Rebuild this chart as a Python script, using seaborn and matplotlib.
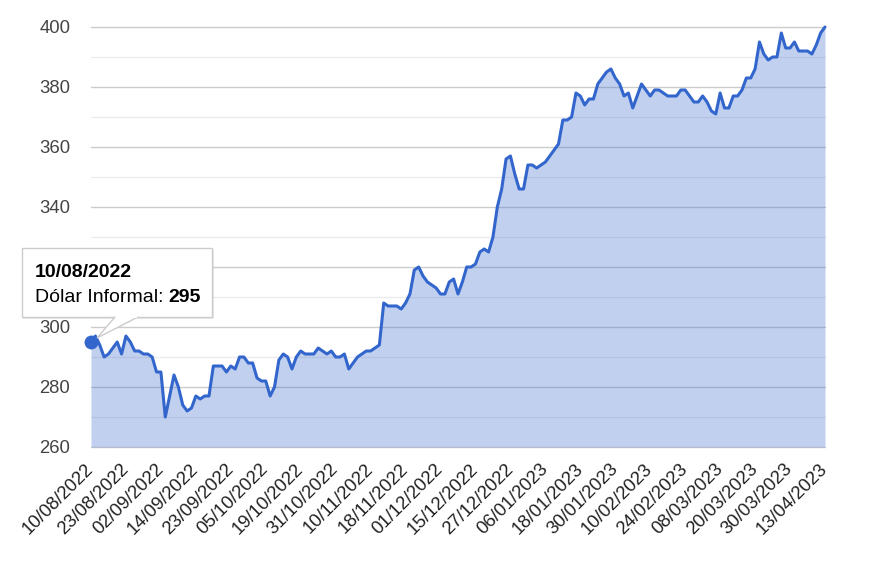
import matplotlib
matplotlib.use("Agg")
import matplotlib.pyplot as plt
import matplotlib.patches as mpatches
import seaborn as sns
import pandas as pd
import numpy as np

# ---- data ----
tick_labels = ["10/08/2022", "23/08/2022", "02/09/2022", "14/09/2022", "23/09/2022",
               "05/10/2022", "19/10/2022", "31/10/2022", "10/11/2022", "18/11/2022",
               "01/12/2022", "15/12/2022", "27/12/2022", "06/01/2023", "18/01/2023",
               "30/01/2023", "10/02/2023", "24/02/2023", "08/03/2023", "20/03/2023",
               "30/03/2023", "13/04/2023"]

values = [295, 297, 294, 290, 291, 293, 295, 291, 297, 295,
          292, 292, 291, 291, 290, 285, 285, 270, 277, 284,
          280, 274, 272, 273, 277, 276, 277, 277, 287, 287,
          287, 285, 287, 286, 290, 290, 288, 288, 283, 282,
          282, 277, 280, 289, 291, 290, 286, 290, 292, 291,
          291, 291, 293, 292, 291, 292, 290, 290, 291, 286,
          288, 290, 291, 292, 292, 293, 294, 308, 307, 307,
          307, 306, 308, 311, 319, 320, 317, 315, 314, 313,
          311, 311, 315, 316, 311, 315, 320, 320, 321, 325,
          326, 325, 330, 340, 346, 356, 357, 351, 346, 346,
          354, 354, 353, 354, 355, 357, 359, 361, 369, 369,
          370, 378, 377, 374, 376, 376, 381, 383, 385, 386,
          383, 381, 377, 378, 373, 377, 381, 379, 377, 379,
          379, 378, 377, 377, 377, 379, 379, 377, 375, 375,
          377, 375, 372, 371, 378, 373, 373, 377, 377, 379,
          383, 383, 386, 395, 391, 389, 390, 390, 398, 393,
          393, 395, 392, 392, 392, 391, 394, 398, 400]

tick_step = 8
series_name = "Dólar Informal"
tooltip_date = "10/08/2022"
tooltip_value = "295"

y_major = [260, 280, 300, 320, 340, 360, 380, 400]
y_minor = [270, 290, 310, 330, 350, 370, 390]

df = pd.DataFrame({"idx": np.arange(len(values)), "value": values})

# ---- figure ----
W, H = 870, 566
sns.set_theme(style="white")
plt.rcParams["font.family"] = ["Liberation Sans", "DejaVu Sans"]

fig = plt.figure(figsize=(W / 100, H / 100), dpi=100)
L, R, T, B = 91, 825, 27, 447
ax = fig.add_axes([L / W, 1 - B / H, (R - L) / W, (B - T) / H])

LINE = "#3366cc"

for v in y_minor:
    ax.axhline(v, color="#ebebeb", lw=1.0, zorder=0)
for v in y_major:
    ax.axhline(v, color="#cccccc", lw=1.0, zorder=0)

ax.fill_between(df["idx"], df["value"], 260, color=LINE, alpha=0.3, lw=0, zorder=1)
sns.lineplot(data=df, x="idx", y="value", ax=ax, color=LINE, lw=2.2, zorder=3)
for l in ax.lines:
    l.set_clip_on(False)
ax.plot([df["idx"].iloc[0]], [df["value"].iloc[0]], "o", color=LINE, ms=9,
        zorder=5, clip_on=False)

ax.set_xlim(0, len(values) - 1)
ax.set_ylim(260, 400)
ax.set_yticks(y_major)
ax.set_yticklabels([str(v) for v in y_major])
ax.set_xticks(np.arange(0, len(values), tick_step))
ax.set_xticklabels(tick_labels)
ax.set_xlabel("")
ax.set_ylabel("")
for s in ax.spines.values():
    s.set_visible(False)

ax.tick_params(axis="y", length=0, pad=15, labelsize=13.3, labelcolor="#444444")
ax.tick_params(axis="x", length=0, pad=14, labelsize=13.3, labelcolor="#222222")
for lab in ax.get_xticklabels():
    lab.set_rotation(45)
    lab.set_rotation_mode("anchor")
    lab.set_ha("right")
    lab.set_va("center")

# ---- tooltip ----
def fx(x):
    return x / W

def fy(y):
    return 1 - y / H

bx0, bx1, by0, by1 = 22, 212, 248, 317
# shadow
fig.add_artist(mpatches.Rectangle((fx(bx0 + 1), fy(by1 + 2)), fx(bx1 - bx0 + 1), (by1 - by0) / H,
                                  transform=fig.transFigure, facecolor="#000000", alpha=0.08,
                                  lw=0, zorder=9))
fig.add_artist(mpatches.Rectangle((fx(bx0), fy(by1)), fx(bx1 - bx0), (by1 - by0) / H,
                                  transform=fig.transFigure, facecolor="white",
                                  edgecolor="#cccccc", lw=1, zorder=10))
tri = mpatches.Polygon([(fx(115), fy(by1)), (fx(97), fy(338)), (fx(138), fy(by1))],
                       closed=False, transform=fig.transFigure, facecolor="white",
                       edgecolor="#cccccc", lw=1, zorder=10)
fig.add_artist(tri)
fig.add_artist(mpatches.Rectangle((fx(116), fy(by1 + 0.5)), fx(21), 1.5 / H,
                                  transform=fig.transFigure, facecolor="white",
                                  lw=0, zorder=11))

fig.text(fx(35), fy(277), tooltip_date, fontsize=14, fontweight="bold", color="#000000",
         va="baseline", ha="left", zorder=12)
t1 = fig.text(fx(35), fy(302), series_name + ": ", fontsize=14, color="#000000",
              va="baseline", ha="left", zorder=12)
fig.canvas.draw()
bb = t1.get_window_extent()
fig.text(bb.x1 / W, fy(302), tooltip_value, fontsize=14, fontweight="bold",
         color="#000000", va="baseline", ha="left", zorder=12)

fig.savefig("out.png", dpi=100)
